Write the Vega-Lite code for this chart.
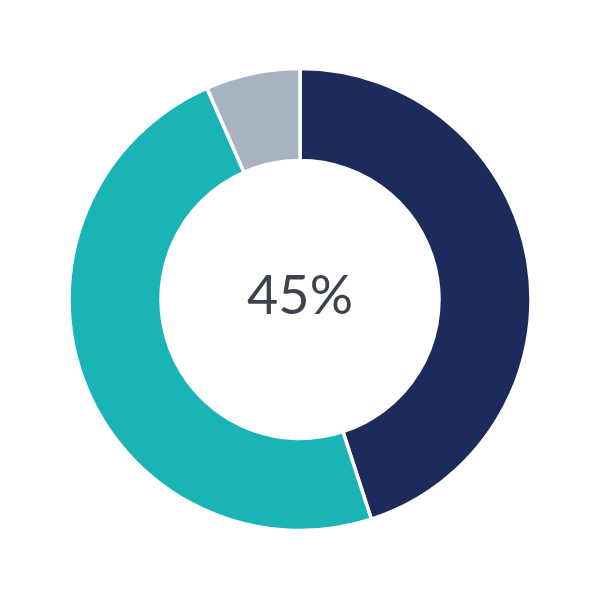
{
  "$schema": "https://vega.github.io/schema/vega-lite/v6.json",
  "width": 600,
  "height": 599,
  "padding": 0,
  "autosize": {"type": "fit", "contains": "padding"},
  "background": "white",
  "view": {"stroke": null},
  "data": {"values": [
    {"segment": "A", "value": 45, "order": 1},
    {"segment": "B", "value": 48.4, "order": 2},
    {"segment": "C", "value": 6.6, "order": 3}
  ]},
  "layer": [
    {
      "mark": {"type": "arc", "outerRadius": 231, "innerRadius": 139, "stroke": "white", "strokeWidth": 3.5},
      "encoding": {
        "theta": {"field": "value", "type": "quantitative", "stack": true},
        "order": {"field": "order", "type": "quantitative"},
        "color": {"field": "segment", "type": "nominal", "legend": null,
          "scale": {"domain": ["A", "B", "C"], "range": ["#1c2b5b", "#1bb4b6", "#a8b3c2"]}}
      }
    },
    {
      "data": {"values": [{"label": "45%"}]},
      "mark": {"type": "text", "font": "Lato", "fontSize": 54, "color": "#3a434e", "align": "center", "baseline": "middle", "dy": -2},
      "encoding": {"text": {"field": "label", "type": "nominal"}}
    }
  ]
}
